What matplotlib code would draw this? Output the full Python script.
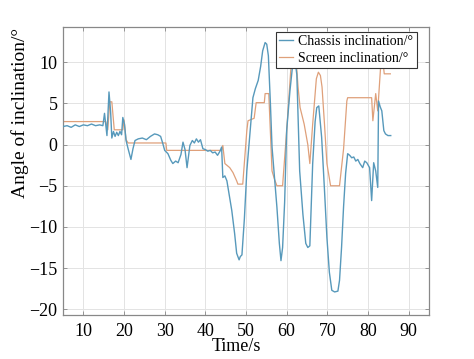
import numpy as np
import matplotlib
matplotlib.use("Agg")
import matplotlib.pyplot as plt

# Chassis inclination
chassis_t = [5.0, 6.0, 7.0, 8.0, 9.0, 10.0, 11.0, 12.0, 13.0, 14.0, 14.8, 15.2, 15.8, 16.3, 16.7,
             17.0, 17.4, 17.8, 18.2, 18.6, 19.0, 19.4, 19.7, 20.1, 20.5, 21.0, 21.7, 22.2, 22.7,
             23.5, 24.5, 25.5, 26.5, 27.5, 28.3, 29.0, 29.5, 30.0, 30.8, 31.5, 32.0, 32.7, 33.3,
             34.0, 34.5, 35.0, 35.5, 36.2, 36.8, 37.3, 37.8, 38.3, 38.8, 39.4, 40.0, 40.6, 41.2,
             41.8, 42.4, 43.0, 43.6, 44.0, 44.3, 44.8, 45.3, 46.0, 46.5, 47.2, 47.7, 48.3, 48.6,
             49.0, 49.6, 50.2, 51.0, 51.7, 52.3, 53.0, 53.6, 54.1, 54.7, 55.1, 55.5, 56.0, 56.4,
             57.0, 57.6, 58.2, 58.6, 59.0, 59.5, 60.0, 60.8, 61.5, 62.0, 62.5, 63.2, 64.0, 64.7,
             65.2, 65.7, 66.4, 67.0, 67.4, 67.9, 68.6, 69.3, 69.9, 70.5, 71.1, 71.8, 72.6, 73.0,
             73.5, 74.0, 74.5, 75.0, 75.5, 76.0, 76.5, 77.0, 77.5, 78.0, 78.7, 79.2, 79.7, 80.4,
             80.9, 81.4, 81.9, 82.4, 82.6, 83.0, 83.4, 83.9, 84.3, 84.9, 85.6]
chassis_v = [2.2, 2.3, 2.1, 2.4, 2.2, 2.4, 2.3, 2.5, 2.3, 2.4, 2.3, 3.8, 1.1, 6.4, 4.0,
             0.8, 1.6, 1.0, 1.5, 1.1, 1.6, 1.2, 3.3, 2.5, 0.5, -0.5, -1.8, -0.5, 0.5,
             0.7, 0.8, 0.6, 1.0, 1.3, 1.2, 1.0, 0.2, -0.7, -1.1, -1.9, -2.3, -2.0, -2.2,
             -1.2, 0.3, -0.6, -2.8, -0.1, 0.5, 0.2, 0.7, 0.3, 0.6, -0.5, -0.6, -0.8, -0.7,
             -1.0, -0.9, -1.3, -0.8, -0.3, -4.0, -3.8, -4.4, -6.5, -8.0, -10.8, -13.2, -14.0, -13.6,
             -13.4, -9.0, -3.2, 1.5, 5.7, 6.8, 7.8, 9.5, 11.4, 12.4, 12.2, 10.8, 5.0, -0.3,
             -4.0, -7.6, -12.0, -14.1, -12.5, -7.0, 1.7, 6.5, 9.8, 10.5, 8.5, -3.2, -8.5, -12.0,
             -12.5, -12.3, -2.3, 2.8, 4.5, 4.7, 0.9, -5.5, -11.3, -15.5, -17.7, -17.9, -17.8, -16.5,
             -12.5, -7.5, -3.5, -1.1, -1.3, -1.6, -1.5, -2.0, -1.8, -2.3, -2.8, -2.0, -2.2, -2.8,
             -6.8, -2.2, -3.2, -5.2, 5.3, 4.6, 4.1, 1.7, 1.3, 1.1, 1.1]

# Screen inclination
screen_t = [5.0, 15.5, 16.0, 16.5, 17.0, 17.6, 19.7, 20.0, 20.5, 21.0, 30.3, 30.5, 44.0, 44.3,
            44.8, 46.0, 46.8, 47.7, 48.0, 49.2, 50.2, 50.5, 51.5, 52.0, 52.5, 54.5, 54.7, 55.6,
            56.4, 57.0, 57.6, 59.0, 60.0, 61.0, 61.6, 62.3, 62.8, 63.3, 64.3, 65.2, 65.7, 66.4,
            67.3, 67.8, 68.3, 68.7, 69.3, 69.9, 70.8, 73.0, 74.0, 74.8, 75.0, 80.9, 81.2, 81.9,
            82.4, 83.1, 83.6, 84.0, 85.5]
screen_v = [2.8, 2.8, 1.8, 5.2, 5.2, 1.8, 1.8, 3.0, 0.6, 0.2, 0.2, -0.7, -0.7, -0.1,
            -2.3, -2.8, -3.4, -4.4, -4.8, -4.8, 1.7, 2.9, 3.1, 3.2, 5.1, 5.1, 6.2, 6.2,
            -3.2, -4.2, -5.0, -5.0, 1.7, 9.0, 11.0, 10.5, 7.0, 4.5, 2.5, 0.0, -2.3, 2.5,
            8.0, 8.8, 8.4, 7.0, 2.5, -2.3, -5.0, -5.0, -0.5, 5.3, 5.7, 5.7, 2.9, 6.2,
            4.1, 9.4, 10.5, 8.6, 8.6]

xticks = np.arange(10, 91, 10)
yticks = np.arange(-20, 11, 5)

plt.rcParams['font.family'] = ['Liberation Serif', 'DejaVu Serif']
plt.rcParams['axes.unicode_minus'] = True

fig = plt.figure(figsize=(4.74, 3.59), dpi=100)
ax = fig.add_axes([0.133, 0.1226, 0.772, 0.8024])

ax.plot(chassis_t, chassis_v, color='#5799bb', lw=1.0, label='Chassis inclination/°', zorder=3)
ax.plot(screen_t, screen_v, color='#dfa07a', lw=0.9, label='Screen inclination/°', zorder=2)

ax.set_xlim(5, 95)
ax.set_ylim(-20.7, 14.3)
ax.set_xticks(xticks)
ax.set_yticks(yticks)
ax.grid(True, color='#e3e3e3', lw=0.7)
ax.set_axisbelow(True)
ax.tick_params(direction='in', top=True, right=True, length=3, width=0.6,
               color='#888888', labelsize=13)
ax.tick_params(axis='x', pad=5.5)
ax.tick_params(axis='y', pad=4)
for s in ax.spines.values():
    s.set_color('#888888')
    s.set_linewidth(0.9)

ax.set_xlabel('Time/s', fontsize=13)
ax.xaxis.set_label_coords(0.475, -0.111)
ax.xaxis.label.set_va('center')
ax.set_ylabel('Angle of inclination/°', fontsize=14)
ax.yaxis.set_label_coords(-0.117, 0.70)
ax.yaxis.label.set_va('center')

leg = ax.legend(loc='upper right', bbox_to_anchor=(0.967, 0.983), fontsize=10,
                frameon=True, fancybox=False, framealpha=1, borderpad=0.25,
                handlelength=1.0, handletextpad=0.4, labelspacing=0.25,
                borderaxespad=0)
leg.get_frame().set_edgecolor('#333333')
leg.get_frame().set_linewidth(0.8)

fig.savefig('out.png', dpi=100)
